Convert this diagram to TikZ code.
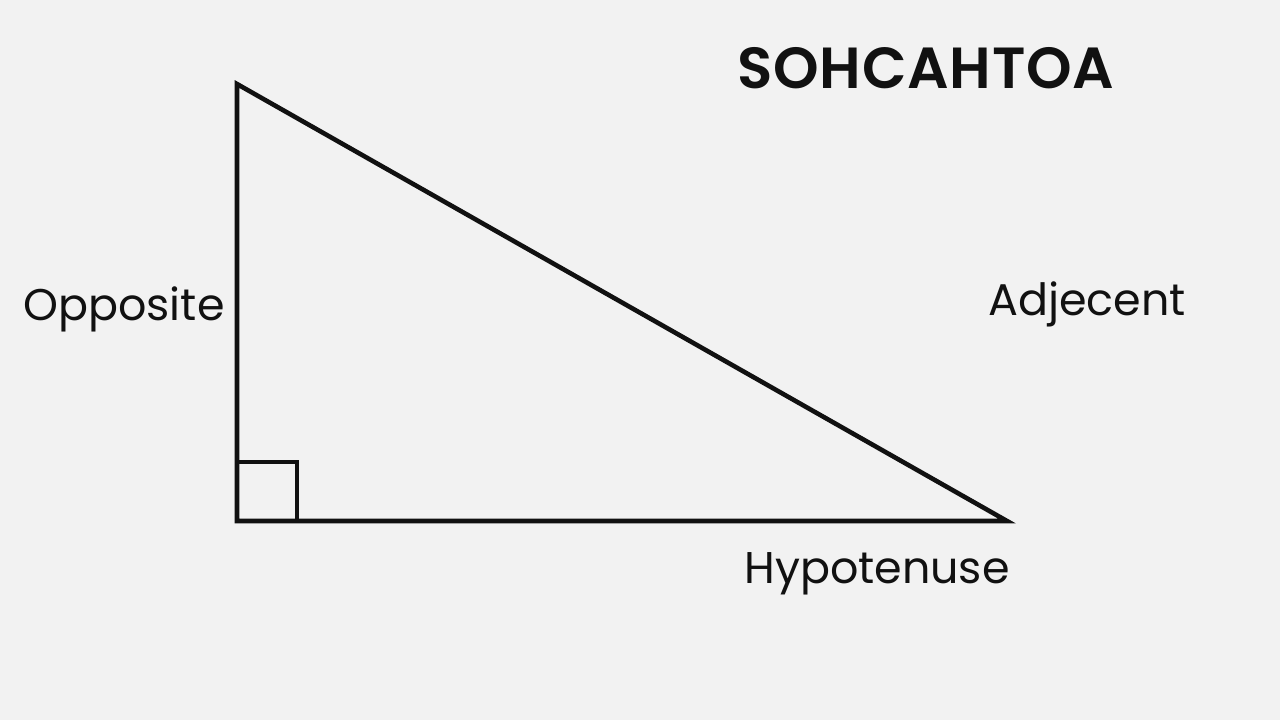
\documentclass[tikz,border=0pt]{standalone}
\usepackage{fontspec}
\setmainfont{Poppins}
\newfontfamily\titlefont{Poppins SemiBold}
\begin{document}
\begin{tikzpicture}[x=0.5pt,y=-0.5pt]
\definecolor{bg}{HTML}{F2F2F2}
\definecolor{ink}{HTML}{111111}
\tikzset{
  edge/.style={draw=ink,line width=2.3pt,line join=miter},
  lbl/.style={text=ink,font=\fontsize{22.2}{25}\selectfont,inner sep=0pt},
}
\fill[bg] (0,0) rectangle (1280,720);
\useasboundingbox (0,0) rectangle (1280,720);
\coordinate (A) at (237,84);
\coordinate (B) at (237,521);
\coordinate (C) at (1007,521);
\draw[edge] (A) -- (B) -- (C) -- cycle;
\coordinate (R1) at (237,462);
\coordinate (R2) at (297,462);
\coordinate (R3) at (297,521);
\draw[edge] (R1) -- (R2) -- (R3);
\node[text=ink,font=\titlefont\fontsize{29}{33}\selectfont,inner sep=0pt] (title) at (926,68) {S\kern0.4ptO\kern0.4ptH\kern0.4ptC\kern0.4ptA\kern0.4ptH\kern0.4ptT\kern0.4ptO\kern0.4ptA};
\node[lbl] (opp) at (124,309) {Opposite};
\node[lbl] (adj) at (1087,304) {Adjecent};
\node[lbl] (hyp) at (877,574) {Hypotenuse};
\end{tikzpicture}
\end{document}
